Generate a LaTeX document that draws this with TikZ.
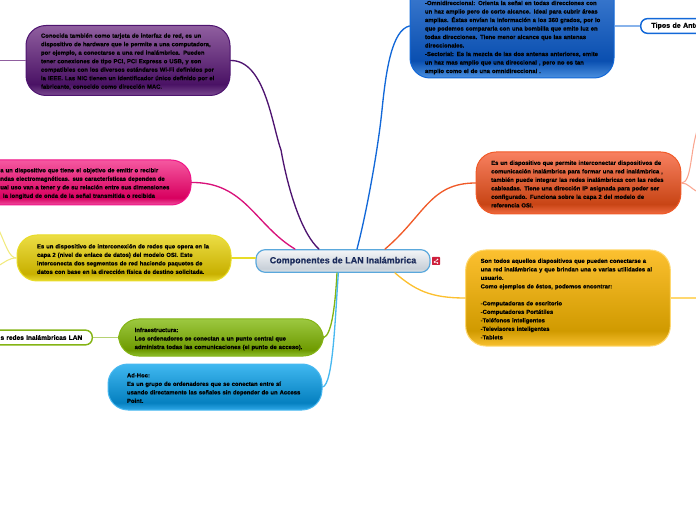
\documentclass[tikz,border=0pt]{standalone}
\usepackage{fontspec}
\setmainfont[BoldFeatures={FakeBold=0.25}]{Liberation Sans}
\def\boxindent{0pt}
\newcommand{\boxline}[1]{\makebox[\linewidth][l]{\hspace{\boxindent}#1}}
\newcommand{\topgap}{\rule{0pt}{4.8pt}}
\newcommand{\gloss}[4]{\pgfdeclareverticalshading{#1}{100bp}{color(0bp)=(#4); color(25bp)=(#4); color(33bp)=(#3); color(75bp)=(#2); color(100bp)=(#2)}}
\definecolor{pa}{HTML}{905F9F}\definecolor{pb}{HTML}{4A1265}\definecolor{pc}{HTML}{7A4A8F}\definecolor{pd}{HTML}{4E1470}
\definecolor{ba}{HTML}{4A86D8}\definecolor{bb}{HTML}{0A4FB0}\definecolor{bc}{HTML}{4A90E0}\definecolor{bd}{HTML}{1268D8}
\definecolor{ka}{HTML}{F558A0}\definecolor{kb}{HTML}{D8005F}\definecolor{kc}{HTML}{F050A0}\definecolor{kd}{HTML}{F01488}
\definecolor{ya}{HTML}{ECDD45}\definecolor{yb}{HTML}{C8B000}\definecolor{yc}{HTML}{E8D830}\definecolor{yd}{HTML}{E8DC28}
\definecolor{ra}{HTML}{F88060}\definecolor{rb}{HTML}{C84515}\definecolor{rc}{HTML}{F06A40}\definecolor{rd}{HTML}{F05A28}
\definecolor{oa}{HTML}{FCC030}\definecolor{ob}{HTML}{D09A00}\definecolor{oc}{HTML}{F8C030}\definecolor{od}{HTML}{FFD870}
\definecolor{ga}{HTML}{9CC840}\definecolor{gb}{HTML}{6E9A00}\definecolor{gc}{HTML}{90C030}\definecolor{gd}{HTML}{84B414}
\definecolor{ca}{HTML}{40B8F0}\definecolor{cb}{HTML}{0580C0}\definecolor{cc}{HTML}{30A8E8}\definecolor{cd}{HTML}{48B8F0}
\definecolor{wa}{HTML}{F4F6F8}\definecolor{wb}{HTML}{C8D0D8}\definecolor{wc}{HTML}{E4E8EC}\definecolor{wd}{HTML}{5AA8DC}
\gloss{gp}{pa}{pb}{pc}\gloss{gbl}{ba}{bb}{bc}\gloss{gk}{ka}{kb}{kc}\gloss{gy}{ya}{yb}{yc}
\gloss{gr}{ra}{rb}{rc}\gloss{go}{oa}{ob}{oc}\gloss{gg}{ga}{gb}{gc}\gloss{gc}{ca}{cb}{cc}\gloss{gw}{wa}{wb}{wc}
\tikzset{
 gbox/.style={rounded corners=15pt,line width=0.75pt,inner xsep=11.25pt,inner ysep=0pt,align=left,text=black,
   font=\fontsize{4.43}{6.375}\selectfont\bfseries},
 indent/.style={execute at begin node={\def\boxindent{#1}}},
 link/.style={line width=1pt,line cap=round},
 thin link/.style={line width=0.8pt},
 tagbox/.style={rounded corners=5pt,fill=white,line width=1.1pt,minimum height=11pt,inner sep=0pt,font=\fontsize{5.3}{6.4}\selectfont\bfseries}
}
\begin{document}
\begin{tikzpicture}[x=0.75pt,y=-0.75pt]
\clip (0,0) rectangle (696,520);
% topic boxes
\node[gbox,shade,shading=gp,draw=pd,text width=130.5pt,minimum height=52.5pt] (nic) at (128,60.5) {%
\boxline{\topgap Conocida también como tarjeta de interfaz de red, es un}\\
\boxline{dispositivo de hardware que le permite a una computadora,}\\
\boxline{por ejemplo, a conectarse a una red inalámbrica. Pueden}\\
\boxline{tener conexiones de tipo PCI, PCI Express o USB, y son}\\
\boxline{compatibles con los diversos estándares Wi-Fi definidos por}\\
\boxline{la IEEE. Las NIC tienen un identificador único definido por el}\\
\boxline{fabricante, conocido como dirección MAC.}};
\node[gbox,shade,shading=gbl,draw=bd,text width=130.5pt,minimum height=81pt] (ant) at (512,24) {%
\boxline{\rule{0pt}{23.5pt}-Omnidireccional: Orienta la señal en todas direcciones con}\\
\boxline{un haz amplio pero de corto alcance. Ideal para cubrir áreas}\\
\boxline{amplias. Éstas envían la información a los 360 grados, por lo}\\
\boxline{que podemos compararla con una bombilla que emite luz en}\\
\boxline{todas direcciones. Tiene menor alcance que las antenas}\\
\boxline{direccionales.}\\
\boxline{-Sectorial: Es la mezcla de las dos antenas anteriores, emite}\\
\boxline{un haz mas amplio que una direccional , pero no es tan}\\
\boxline{amplio como el de una omnidireccional .}};
\node[gbox,shade,shading=gk,draw=kd,text width=180pt,minimum height=33.75pt,inner xsep=0pt] (pink) at (71,182.5) {%
\boxline{\topgap\hspace{37pt}a un dispositivo que tiene el objetivo de emitir o recibir}\\
\boxline{\hspace{37pt}ndas electromagnéticas. sus características dependen de}\\
\boxline{\hspace{37pt}ual uso van a tener y de su relación entre sus dimensiones}\\
\boxline{\hspace{39pt}la longitud de onda de la señal transmitida o recibida}};
\node[gbox,shade,shading=gy,draw=yd,text width=138pt,minimum height=34.5pt,indent=3.75pt] (bridge) at (124,258) {%
\boxline{\topgap Es un dispositivo de interconexión de redes que opera en la}\\
\boxline{capa 2 (nivel de enlace de datos) del modelo OSI. Este}\\
\boxline{interconecta dos segmentos de red haciendo paquetes de}\\
\boxline{datos con base en la dirección física de destino solicitada.}};
\node[gbox,shade,shading=gr,draw=rd,text width=131pt,minimum height=46.5pt] (ap) at (578.5,183) {%
\boxline{\topgap Es un dispositivo que permite interconectar dispositivos de}\\
\boxline{comunicación inalámbrica para formar una red inalámbrica ,}\\
\boxline{también puede integrar las redes inalámbricas con las redes}\\
\boxline{cableadas. Tiene una dirección IP asignada para poder ser}\\
\boxline{configurado. Funciona sobre la capa 2 del modelo de}\\
\boxline{referencia OSI.}};
\node[gbox,shade,shading=go,draw=od,text width=131pt,minimum height=72pt] (client) at (568,298) {%
\boxline{\topgap Son todos aquellos dispositivos que pueden conectarse a}\\
\boxline{una red inalámbrica y que brindan una o varias utilidades al}\\
\boxline{usuario.}\\
\boxline{Como ejemplos de éstos, podemos encontrar:}\\
\boxline{\mbox{}}\\
\boxline{-Computadoras de escritorio}\\
\boxline{-Computadores Portátiles}\\
\boxline{-Teléfonos inteligentes}\\
\boxline{-Televisores inteligentes}\\
\boxline{-Tablets}};
\node[gbox,shade,shading=gg,draw=gd,text width=131pt,minimum height=27.75pt,indent=0.75pt] (infra) at (221,337.5) {%
\boxline{\rule{0pt}{5.5pt}Infraestructura:}\\
\boxline{Los ordenadores se conectan a un punto central que}\\
\boxline{administra todas las comunicaciones (el punto de acceso).}};
\node[gbox,shade,shading=gc,draw=cd,text width=138pt,minimum height=34.5pt,indent=3pt] (adhoc) at (215,387) {%
\boxline{\topgap Ad-Hoc:}\\
\boxline{Es un grupo de ordenadores que se conectan entre sí}\\
\boxline{usando directamente las señales sin depender de un Access}\\
\boxline{Point.}};
% central topic
\node[shade,shading=gw,draw=wd,line width=0.9pt,rounded corners=7pt,minimum width=130.5pt,minimum height=17pt,inner sep=0pt,
  text={rgb,255:red,26;green,42;blue,90},font=\fontsize{6.75}{9}\selectfont\bfseries] (root) at (343,261) {Componentes de LAN Inalámbrica};
% side labels
\node[tagbox,draw=bd,anchor=west,minimum width=120pt,align=left,text width=108pt,inner xsep=8pt] (tipos) at (640,26) {Tipos de Ante};
\node[tagbox,draw=gd,anchor=east,minimum width=100pt,align=right,text width=92pt,inner xsep=7.5pt,font=\fontsize{4.95}{6.4}\selectfont\bfseries] (lan) at (93,337.5) {s redes Inalámbricas LAN};
% free ends
\coordinate (e1) at (-2,60.5);
\coordinate (e2) at (-2,228);
\coordinate (e3) at (-2,266);
\coordinate (e4) at (698,128);
\coordinate (e5) at (698,192);
\coordinate (e6) at (698,298);
% connectors to the root
\draw[link,color=pd] (nic.east) .. controls (265,60) and (272,125) .. (281,150) .. controls (289,195) and (303,235) .. ([xshift=-18pt]root.north);
\draw[link,color=bd] ([yshift=-1.5pt]ant.west) .. controls (392,30) and (386,70) .. (382,110) .. controls (378,150) and (366,215) .. ([xshift=10.5pt]root.north);
\draw[link,color=kd!90!black] (pink.east) .. controls (245,182) and (255,225) .. ([xshift=-36pt]root.north);
\draw[link,color=rd] (ap.west) .. controls (430,183) and (425,215) .. ([xshift=31.5pt]root.north);
\draw[link,color=oa] (client.west) .. controls (430,298) and (415,290) .. ([xshift=39pt]root.south);
\draw[link,color=yd] (bridge.east) -- ([yshift=2.25pt]root.west);
\draw[link,color=gd] (infra.east) .. controls (331,335) and (335,310) .. ([xshift=-4.5pt]root.south);
\draw[link,color=cd] (adhoc.east) .. controls (333,385) and (335,320) .. ([xshift=-3.5pt]root.south);
% outer connectors
\draw[thin link,color=pa] (nic.west) -- (e1);
\draw[thin link,color=bd!50] ([yshift=-1.5pt]ant.east) -- (tipos.west);
\draw[thin link,color=gd!60] (infra.west) -- (lan.east);
\draw[thin link,color=yd!60] (bridge.west) .. controls (9,258) and (6,245) .. (e2);
\draw[thin link,color=yd!60] (bridge.west) .. controls (9,258) and (5,262) .. (e3);
\draw[thin link,color=ra!70] (ap.east) .. controls (692,183) and (690,150) .. (e4);
\draw[thin link,color=ra!70] (ap.east) .. controls (688,183) and (690,188) .. (e5);
\draw[thin link,color=od] (client.east) -- (e6);
% note icon
\fill[rounded corners=0.5pt,fill={rgb,255:red,206;green,32;blue,60}] (432,257) rectangle (440,265);
\fill[white] (434.5,262) circle (0.9) (437.5,259.5) circle (0.9) (437.5,263) circle (0.9);
\draw[white,line width=0.3pt] (437.5,259.5) -- (434.5,262) -- (437.5,263);
\end{tikzpicture}
\end{document}
